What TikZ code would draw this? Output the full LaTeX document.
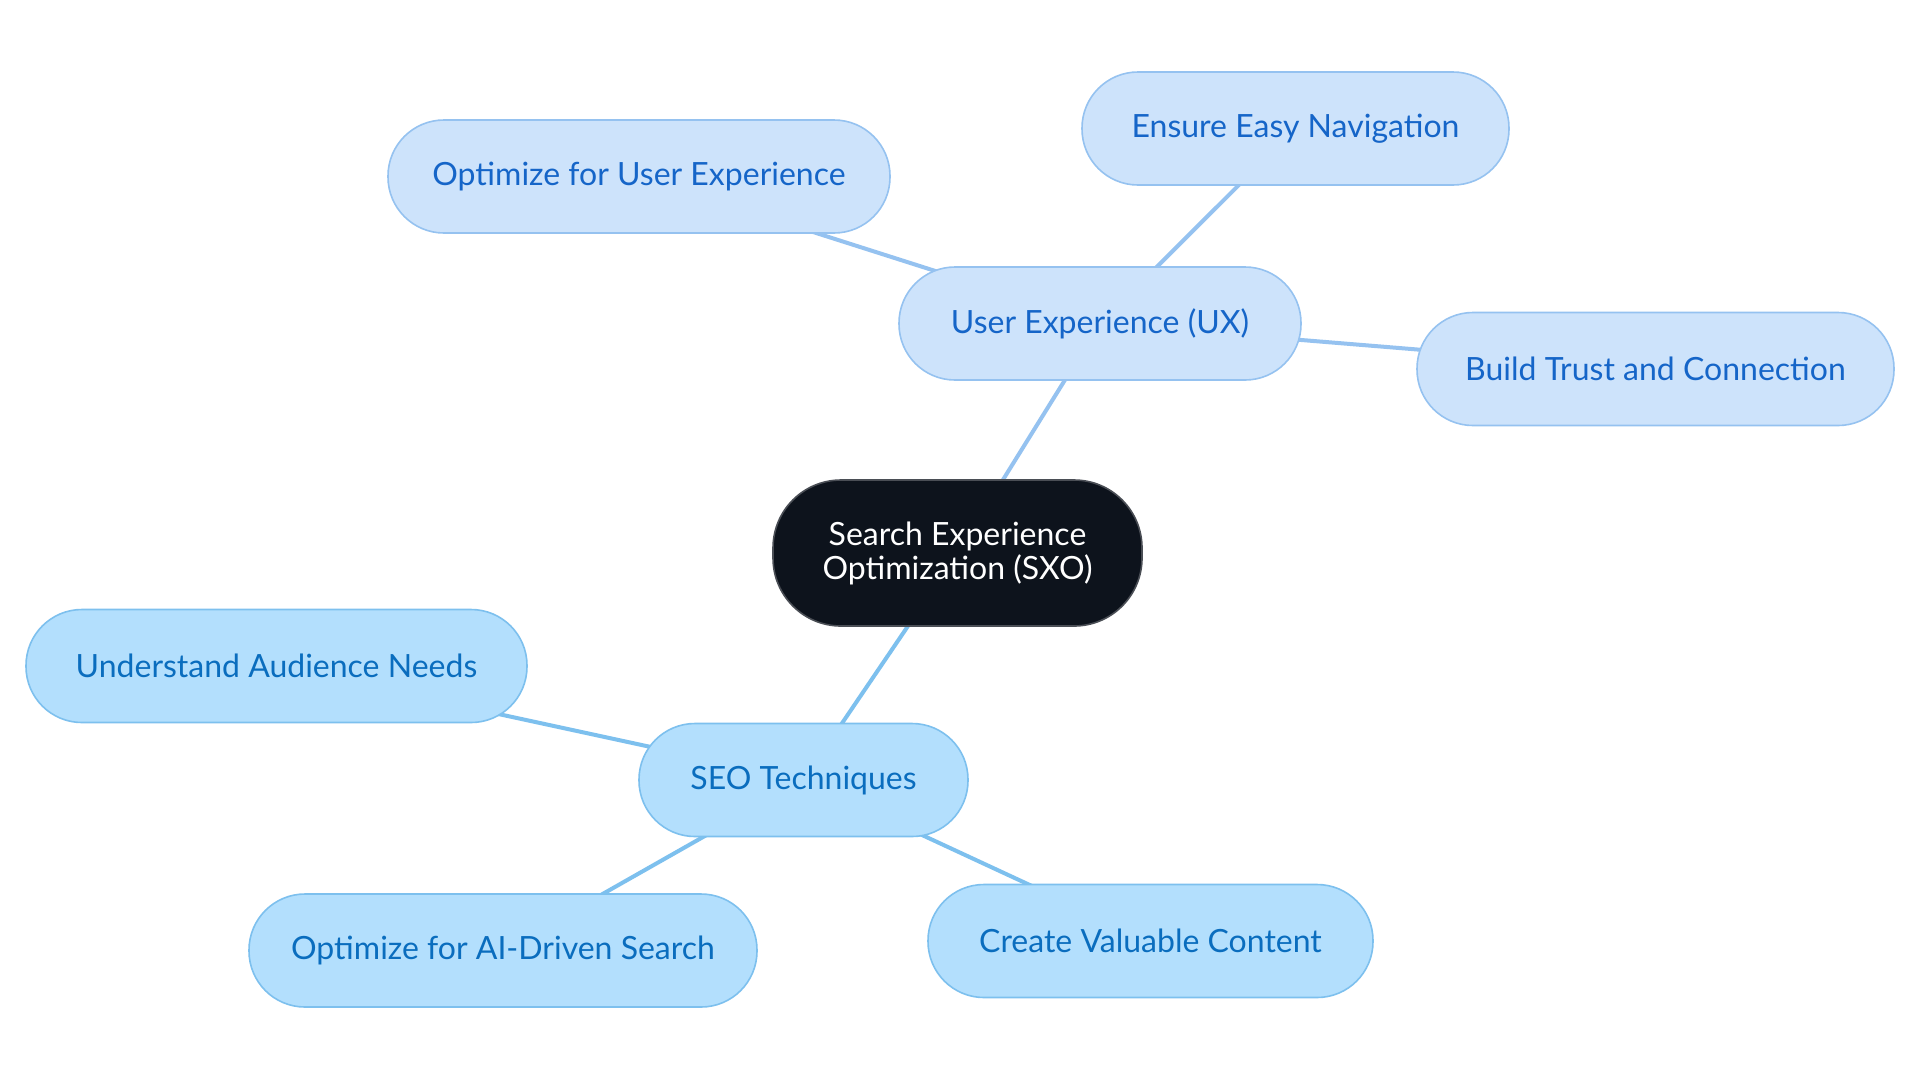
\documentclass[tikz,border=0pt]{standalone}
\usepackage{fontspec}
\setmainfont{Lato}
\usetikzlibrary{backgrounds}
\definecolor{rootfill}{HTML}{0D131C}
\definecolor{rootdraw}{HTML}{4A4E55}
\definecolor{uxfill}{HTML}{CDE3FB}
\definecolor{uxdraw}{HTML}{95C2F0}
\definecolor{uxtext}{HTML}{1565C8}
\definecolor{seofill}{HTML}{B3DFFD}
\definecolor{seodraw}{HTML}{7DC0EE}
\definecolor{seotext}{HTML}{0A6DBE}
\tikzset{
  pill/.style={rounded corners=28pt, minimum height=56.5pt, inner sep=0pt, line width=0.8pt, font=\fontsize{16}{17}\selectfont, align=center},
  root/.style={pill, rounded corners=34pt, minimum width=184.5pt, minimum height=73pt, fill=rootfill, draw=rootdraw, text=white},
  uxleaf/.style={pill, minimum width=#1, fill=uxfill, draw=uxdraw, text=uxtext},
  seoleaf/.style={pill, minimum width=#1, fill=seofill, draw=seodraw, text=seotext},
  uxlink/.style={draw=uxdraw, line width=2pt},
  seolink/.style={draw=seodraw, line width=2pt}
}
\begin{document}
\begin{tikzpicture}[x=0.5pt,y=-0.5pt]
			\useasboundingbox (0,0) rectangle (1920,1083);
			\node[root] (sxo) at (957.5,553) {Search Experience\\Optimization (SXO)};
			\node[uxleaf=201pt] (ux) at (1100,323.5) {User Experience (UX)};
			\node[uxleaf=251pt] (uxopt) at (639,176.5) {Optimize for User Experience};
			\node[uxleaf=213.5pt] (uxnav) at (1295.5,128.5) {Ensure Easy Navigation};
			\node[uxleaf=238.5pt] (uxtrust) at (1655.5,369) {Build Trust and Connection};
			\node[seoleaf=164.5pt] (seo) at (803.5,780) {SEO Techniques};
			\node[seoleaf=250.5pt] (seoaud) at (276.5,666) {Understand Audience Needs};
			\node[seoleaf=254pt] (seoai) at (503,950.5) {Optimize for AI-Driven Search};
			\node[seoleaf=222.5pt] (seocont) at (1150.5,941) {Create Valuable Content};
			\begin{scope}[on background layer]
			\fill[white] (0,0) rectangle (1920,1083);
			\draw[uxlink] (sxo.center)--(ux.center);
			\draw[uxlink] (ux.center)--(uxopt.center);
			\draw[uxlink] (ux.center)--(uxnav.center);
			\draw[uxlink] (ux.center)--(uxtrust.center);
			\draw[seolink] (sxo.center)--(seo.center);
			\draw[seolink] (seo.center)--(seoaud.center);
			\draw[seolink] (seo.center)--(seoai.center);
			\draw[seolink] (seo.center)--(seocont.center);
			\end{scope}
			\end{tikzpicture}
\end{document}
